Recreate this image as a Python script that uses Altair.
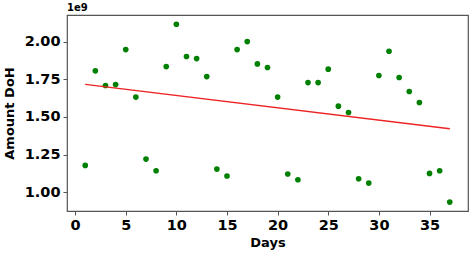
import altair as alt
import pandas as pd

days = list(range(1, 38))
amount = [1.179, 1.806, 1.709, 1.715, 1.947, 1.632, 1.221, 1.144, 1.834, 2.115,
          1.901, 1.887, 1.768, 1.155, 1.109, 1.947, 2.000, 1.852, 1.828, 1.632,
          1.122, 1.084, 1.728, 1.728, 1.817, 1.572, 1.530, 1.091, 1.062, 1.775,
          1.936, 1.762, 1.669, 1.596, 1.126, 1.144, 0.936]
amount = [v * 1e9 for v in amount]

df = pd.DataFrame({"Days": days, "Amount": amount})

x_ticks = [0, 5, 10, 15, 20, 25, 30, 35]
y_ticks = [1.0e9, 1.25e9, 1.5e9, 1.75e9, 2.0e9]

xs = alt.Scale(domain=[-0.8, 38.8], nice=False, zero=False)
ys = alt.Scale(domain=[0.877e9, 2.176e9], nice=False, zero=False)

common = dict(grid=False, labelFontSize=14.5, labelFontWeight="bold",
              titleFontSize=13, titleFontWeight="bold", labelColor="black",
              titleColor="black", tickColor="#555", domain=False, tickSize=4,
              labelFont="DejaVu Sans", titleFont="DejaVu Sans")

xaxis = alt.Axis(values=x_ticks, title="Days", labelPadding=3, titlePadding=5, **common)
yaxis = alt.Axis(values=y_ticks, title="Amount DoH", labelPadding=3, titlePadding=8,
                 labelExpr="format(datum.value / 1e9, '.2f')", **common)

base = alt.Chart(df)

points = base.mark_circle(size=32, color="green", opacity=1).encode(
    x=alt.X("Days:Q", scale=xs, axis=xaxis),
    y=alt.Y("Amount:Q", scale=ys, axis=yaxis),
)

trend = base.transform_regression("Days", "Amount", extent=[1, 37]).mark_line(
    color="#ee2222", strokeWidth=1.5
).encode(
    x=alt.X("Days:Q", scale=xs),
    y=alt.Y("Amount:Q", scale=ys),
)

offset = alt.Chart(pd.DataFrame({"t": ["1e9"]})).mark_text(
    align="left", baseline="bottom", fontSize=10, fontWeight="bold", font="DejaVu Sans", color="black"
).encode(text="t:N", x=alt.value(0), y=alt.value(-2))

chart = alt.layer(points, trend, offset).properties(
    width=401, height=196,
    padding={"left": 67, "top": 15, "right": 6, "bottom": 46},
    autosize=alt.AutoSizeParams(type="none"),
).configure_view(stroke="#555", strokeWidth=1.2)

chart.save("out.html", embed_options={"renderer": "svg", "actions": False})
